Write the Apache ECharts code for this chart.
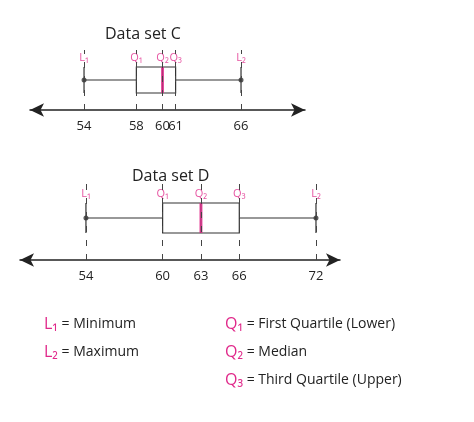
<!DOCTYPE html>
<html><head><meta charset="utf-8">
<script src="https://cdn.jsdelivr.net/npm/echarts@6/dist/echarts.min.js"></script>
<style>html,body{margin:0;background:#fff}#c{width:474px;height:422px}</style>
</head><body><div id="c"></div>
<script>
const setC = [54, 58, 60, 61, 66];
const setD = [54, 60, 63, 66, 72];
const markNames = ['L₁', 'Q₁', 'Q₂', 'Q₃', 'L₂'];
const pink = '#e0288a';
const font = '"Open Sans", sans-serif';

function axisX(idx, min, max, vals) {
  return {gridIndex: idx, type: 'value', min: min, max: max, splitLine: {show: false},
    axisLine: {show: true, onZero: false, lineStyle: {color: '#222', width: 1.5}, symbol: ['arrow', 'arrow'], symbolSize: [10, 14]},
    axisTick: {show: false},
    axisLabel: {customValues: vals, color: '#222', fontSize: 13, fontFamily: font, margin: 10}};
}
function axisY(idx, name) {
  return {gridIndex: idx, type: 'category', data: [name], show: false};
}
function series(idx, name, vals, bw) {
  return [
    {type: 'boxplot', xAxisIndex: idx, yAxisIndex: idx, boxWidth: [bw, bw],
     data: [vals], itemStyle: {color: '#fff', borderColor: '#333', borderWidth: 1.2},
     markLine: {silent: true, symbol: 'none', label: {show: false},
       lineStyle: {type: [6, 8], color: '#444', width: 1},
       data: vals.map(v => ({xAxis: v}))}},
    {type: 'scatter', xAxisIndex: idx, yAxisIndex: idx, symbolSize: 5,
     data: [[vals[0], name], [vals[4], name]], itemStyle: {color: '#333'}},
    {type: 'scatter', xAxisIndex: idx, yAxisIndex: idx, symbol: 'rect', symbolSize: [3, bw],
     data: [[vals[2], name]], itemStyle: {color: pink}},
    {type: 'scatter', xAxisIndex: idx, yAxisIndex: idx, symbolSize: 0,
     data: vals.map((v, i) => ({value: [v, name], label: {formatter: markNames[i]}})),
     label: {show: true, position: 'top', distance: bw / 2 + 4, color: pink, fontSize: 11, fontFamily: font}}
  ];
}
const chart = echarts.init(document.getElementById('c'));
chart.setOption({
  animation: false,
  grid: [
    {left: 30, width: 275, top: 50, height: 60},
    {left: 20, width: 320, top: 176, height: 84}
  ],
  xAxis: [axisX(0, 49.87, 70.89, setC), axisX(1, 48.84, 73.88, setD)],
  yAxis: [axisY(0, 'C'), axisY(1, 'D')],
  series: [...series(0, 'C', setC, 26), ...series(1, 'D', setD, 30)],
  graphic: [
    {type: 'text', left: 105, top: 26, style: {text: 'Data set C', fontSize: 16, fontFamily: font, fill: '#222'}},
    {type: 'text', left: 132, top: 168, style: {text: 'Data set D', fontSize: 16, fontFamily: font, fill: '#222'}},
    {type: 'text', left: 44, top: 316, style: {rich: {p: {fill: pink, fontSize: 16, fontFamily: font}, b: {fill: '#222', fontSize: 14, fontFamily: font}}, text: '{p|L₁}{b| = Minimum}'}},
    {type: 'text', left: 44, top: 344, style: {rich: {p: {fill: pink, fontSize: 16, fontFamily: font}, b: {fill: '#222', fontSize: 14, fontFamily: font}}, text: '{p|L₂}{b| = Maximum}'}},
    {type: 'text', left: 225, top: 316, style: {rich: {p: {fill: pink, fontSize: 16, fontFamily: font}, b: {fill: '#222', fontSize: 14, fontFamily: font}}, text: '{p|Q₁}{b| = First Quartile (Lower)}'}},
    {type: 'text', left: 225, top: 344, style: {rich: {p: {fill: pink, fontSize: 16, fontFamily: font}, b: {fill: '#222', fontSize: 14, fontFamily: font}}, text: '{p|Q₂}{b| = Median}'}},
    {type: 'text', left: 225, top: 372, style: {rich: {p: {fill: pink, fontSize: 16, fontFamily: font}, b: {fill: '#222', fontSize: 14, fontFamily: font}}, text: '{p|Q₃}{b| = Third Quartile (Upper)}'}}
  ]
});
</script></body></html>
